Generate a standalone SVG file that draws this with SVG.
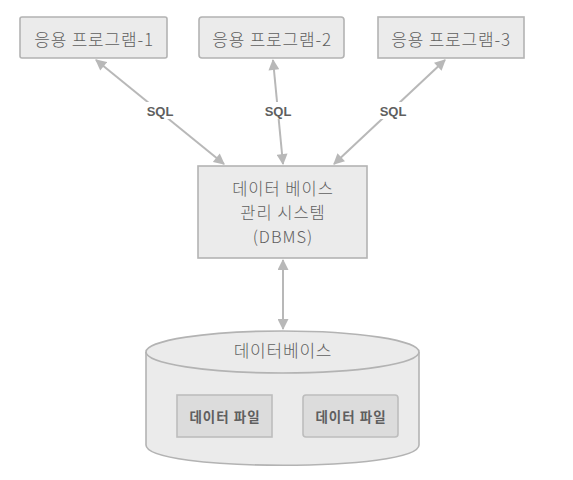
<svg xmlns="http://www.w3.org/2000/svg" width="573" height="480" viewBox="0 0 573 480">
<style>
.box{fill:#ebebeb;stroke:#b3b3b3;stroke-width:1.6}
.file{fill:#dcdcdc;stroke:#bdbdbd;stroke-width:1.6}
.t{font-family:"Noto Sans CJK KR","Liberation Sans",sans-serif;font-size:17px;letter-spacing:0.8px;fill:#5f5f5f;text-anchor:middle;dominant-baseline:central;font-weight:300}
.m{font-size:16.5px;letter-spacing:1px}
.lbl{font-family:"Liberation Sans","Noto Sans CJK KR",sans-serif;font-size:13px;font-weight:bold;fill:#5f5f5f;text-anchor:middle;dominant-baseline:central}
.ft{font-family:"Noto Sans CJK KR",sans-serif;font-size:13.5px;letter-spacing:1px;font-weight:bold;fill:#5f5f5f;text-anchor:middle;dominant-baseline:central}
.c{stroke:#b8b8b8;stroke-width:2;fill:none;marker-start:url(#ah);marker-end:url(#ah)}
</style>
<defs>
<marker id="ah" viewBox="0 0 10 10" refX="9" refY="5" markerWidth="12" markerHeight="11" orient="auto-start-reverse" markerUnits="userSpaceOnUse">
<path d="M0,0 L10,5 L0,10 z" fill="#b8b8b8"/>
</marker>
</defs>
<g id="connectors">
<line class="c" x1="96" y1="60" x2="224" y2="164"/>
<line class="c" x1="273" y1="60" x2="283" y2="164"/>
<line class="c" x1="445" y1="60" x2="334" y2="164"/>
<line class="c" x1="283" y1="260" x2="283" y2="329"/>
<rect x="141" y="102" width="38" height="17" fill="#fff"/>
<rect x="259" y="102" width="38" height="17" fill="#fff"/>
<rect x="374" y="102" width="38" height="17" fill="#fff"/>
<text class="lbl" x="160" y="111">SQL</text>
<text class="lbl" x="278" y="111">SQL</text>
<text class="lbl" x="393" y="111">SQL</text>
</g>
<g id="app1">
<rect class="box" x="20" y="17" width="147" height="41" rx="2"/>
<text class="t" x="94" y="38">응용 프로그램-1</text>
</g>
<g id="app2">
<rect class="box" x="199" y="17" width="145" height="41" rx="3"/>
<text class="t" x="272" y="38">응용 프로그램-2</text>
</g>
<g id="app3">
<rect class="box" x="378" y="17" width="146" height="41"/>
<text class="t" x="451" y="38">응용 프로그램-3</text>
</g>
<g id="dbms">
<rect class="box" x="198" y="166" width="169" height="92"/>
<text class="t m" x="283" y="188">데이터 베이스</text>
<text class="t m" x="283" y="212">관리 시스템</text>
<text class="t m" x="283" y="236">(DBMS)</text>
</g>
<g id="database">
<path class="box" d="M146,352 L146,445 C146,472 419,472 419,445 L419,352"/>
<ellipse class="box" cx="282.5" cy="352" rx="136.5" ry="21"/>
<text class="t" x="283" y="349">데이터베이스</text>
<g id="file1">
<rect class="file" x="177" y="395" width="95" height="42"/>
<text class="ft" x="225" y="416">데이터 파일</text>
</g>
<g id="file2">
<rect class="file" x="303" y="395" width="95" height="42" rx="3"/>
<text class="ft" x="351" y="416">데이터 파일</text>
</g>
</g>
</svg>
